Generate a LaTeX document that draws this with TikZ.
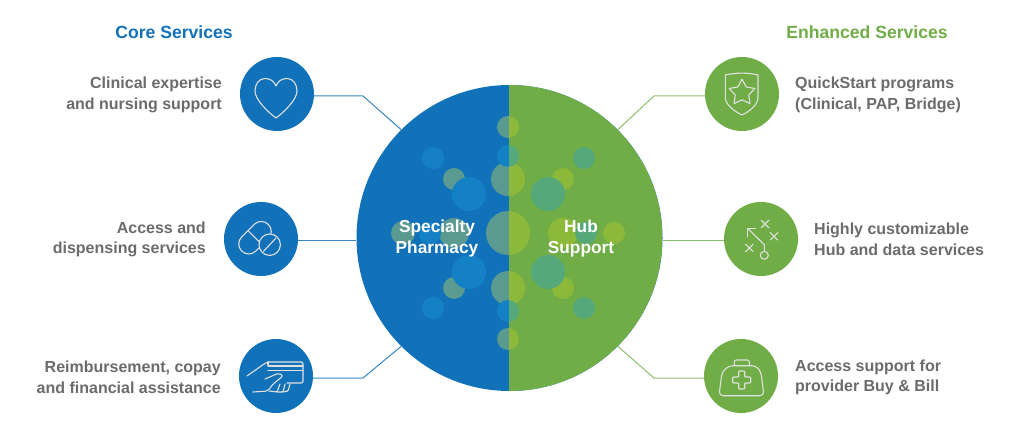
\documentclass[tikz,border=0pt]{standalone}
\usepackage{fontspec}
\setmainfont{Liberation Sans}
\usetikzlibrary{shapes.geometric}

\definecolor{coreblue}{HTML}{1272B9}
\definecolor{hubgreen}{HTML}{70AD47}
\definecolor{bluedot}{HTML}{1581C5}
\definecolor{greydot}{HTML}{5A9A90}
\definecolor{tealdot}{HTML}{55A87A}
\definecolor{limedot}{HTML}{8DB93B}
\definecolor{labelgrey}{HTML}{6B6B6D}

\newcommand{\bubbles}[2]{
	\foreach \bx/\by/\br in {508/127/11, 508/179/17, 508/233/22, 508/288/17, 508/339/11,
		454/179/11, 563/179/11, 454/233/15, 563/233/15, 403/233/12, 614/233/11, 454/288/11, 563/288/11}
		\fill[#2] (\bx,\by) circle (\br);
	\foreach \bx/\by/\br in {508/156/11, 508/311/11, 433/158/11, 584/158/11, 469/194/17, 548/194/17,
		430/233/11, 586/233/11, 469/272/17, 548/272/17, 433/308/11, 584/308/11}
		\fill[#1] (\bx,\by) circle (\br);
}

\begin{document}
\begin{tikzpicture}
[
x=1pt, y=-1pt,
every node/.style={inner sep=0pt},
title/.style={font=\bfseries\fontsize{17.6}{20}\selectfont},
label/.style={font=\bfseries\fontsize{16}{20.5}\selectfont, text=labelgrey},
leftlabel/.style={label, anchor=east, align=right},
rightlabel/.style={label, anchor=west, align=left},
hublabel/.style={font=\bfseries\fontsize{17.3}{21}\selectfont, text=white, align=center},
iconspot/.style={circle, minimum size=74pt},
coreline/.style={coreblue!85, line width=1pt},
hubline/.style={hubgreen!80, line width=1pt},
glyph/.style={white!88!black, line width=1.1pt, line join=round, line cap=round}
]
\useasboundingbox (0,0) rectangle (1024,438);

% centre disc
\node[circle, fill=coreblue, minimum size=306pt] (disc) at (509.5,238) {};
\begin{scope}
	\clip (0,0) rectangle (509,438);
	\clip (509.5,238) circle (153);
	\bubbles{bluedot}{greydot}
\end{scope}
\begin{scope}
	\clip (509,0) rectangle (1024,438);
	\clip (509.5,238) circle (153);
	\fill[hubgreen] (disc.center) circle (153);
	\bubbles{tealdot}{limedot}
\end{scope}
\node[hublabel] (specialty) at (437,239) {Specialty\\Pharmacy};
\node[hublabel] (hub) at (581,239) {Hub\\Support};

% icon spots
\node[iconspot, fill=coreblue] (heart) at (277,94) {};
\node[iconspot, fill=coreblue] (pills) at (261,239) {};
\node[iconspot, fill=coreblue] (card) at (276,376) {};
\node[iconspot, fill=hubgreen] (shield) at (742,94) {};
\node[iconspot, fill=hubgreen] (play) at (761,239) {};
\node[iconspot, fill=hubgreen] (bag) at (741,376) {};

% connectors
\coordinate (kneeA) at (363,96);
\coordinate (kneeC) at (363,378);
\coordinate (kneeD) at (654,96);
\coordinate (kneeF) at (654,378);
\draw[coreline] (heart.east |- kneeA) -- (kneeA) -- (disc.135);
\draw[coreline] (pills.east |- 0,240) -- (disc.west |- 0,240);
\draw[coreline] (card.east |- kneeC) -- (kneeC) -- (disc.225);
\draw[hubline] (shield.west |- kneeD) -- (kneeD) -- (disc.45);
\draw[hubline] (play.west |- 0,240) -- (disc.east |- 0,240);
\draw[hubline] (bag.west |- kneeF) -- (kneeF) -- (disc.315);

% headings and labels
\node[title, text=coreblue] (core) at (174,32) {Core Services};
\node[title, text=hubgreen] (enhanced) at (867,32) {Enhanced Services};
\node[leftlabel] (clinical) at (222,95) {Clinical expertise\\and nursing support};
\node[leftlabel] (access) at (206,239.5) {Access and\\dispensing services};
\node[leftlabel] (reimb) at (221,377.5) {Reimbursement, copay\\and financial assistance};
\node[rightlabel] (quick) at (795,95) {QuickStart programs\\(Clinical, PAP, Bridge)};
\node[rightlabel] (custom) at (814,239.5) {Highly customizable\\Hub and data services};
\node[rightlabel] (buy) at (795,377.5) {Access support for\\provider Buy \& Bill};

% heart
\begin{scope}[shift={(heart)}]
	\draw[glyph] (-1,-8) .. controls (-3,-13) and (-7,-15.5) .. (-12,-15.5)
		.. controls (-18,-15.5) and (-22,-10) .. (-22,-3)
		.. controls (-22,6) and (-8,19) .. (-1,24)
		.. controls (6,19) and (20,6) .. (20,-3)
		.. controls (20,-10) and (16,-15.5) .. (10,-15.5)
		.. controls (5,-15.5) and (1,-13) .. (-1,-8) -- cycle;
\end{scope}

% pills
\begin{scope}[shift={(pills)}]
	\begin{scope}[shift={(-6,-1.3)}, rotate=45]
		\draw[glyph, rounded corners=9.9pt] (-18.8,-10) rectangle (18.8,10);
		\draw[glyph] (0,-10) -- (0,10);
	\end{scope}
	\draw[glyph, fill=coreblue] (8.7,5.7) circle (10.7);
	\draw[glyph] (2.5,12.3) -- (15,-1);
\end{scope}

% card and hand
\begin{scope}[shift={(card)}]
	\draw[glyph, rounded corners=1.5pt] (-8,-14) -- (27,-14) -- (27,7) -- (11,7);
	\draw[glyph] (-8,-14) -- (-8,-11);
	\draw[glyph] (-8,-10) -- (27,-10);
	\draw[glyph] (-8,-5.5) -- (27,-5.5);
	\draw[glyph, rounded corners=1.5pt] (-29,0) -- (-12,-12) -- (-8,-14);
	\draw[glyph, rounded corners=2pt] (-11,3) -- (3,-3) -- (7,0) -- (-4,9) -- (-8,15) -- (-23,16);
	\draw[glyph, rounded corners=1pt] (-7,15) -- (1,16) -- (4,8);
	\draw[glyph, rounded corners=1pt] (1,16) -- (7,16) -- (9,8);
	\draw[glyph, rounded corners=1pt] (7,16) -- (12,15) -- (14,8);
\end{scope}

% shield
\begin{scope}[shift={(shield)}]
	\draw[glyph] (-16.7,-19) .. controls (-6,-21.5) and (6,-21.5) .. (16,-19) -- (16,3)
		.. controls (16,11) and (8,17) .. (0,21)
		.. controls (-8,17) and (-16.7,11) .. (-16.7,3) -- cycle;
	\node[star, star points=5, star point ratio=1.9, draw=white!88!black, line width=1.1pt,
		line join=round, minimum size=27pt] (badge) at (0,-1.3) {};
\end{scope}

% play chart
\begin{scope}[shift={(play)}]
	\draw[glyph] (3.3,16.3) circle (4);
	\draw[glyph] (3.3,12.3) -- (3.3,5.7) -- (-12.7,-10);
	\draw[glyph] (-5.3,-10.3) -- (-13.3,-10.3) -- (-13.3,-2);
	\foreach \mx/\my in {4/-15, 13/-2.7, -11.7/9}
		\draw[glyph] (\mx-3.7,\my-3.7) -- (\mx+3.7,\my+3.7) (\mx-3.7,\my+3.7) -- (\mx+3.7,\my-3.7);
\end{scope}

% medical bag
\begin{scope}[shift={(bag)}]
	\draw[glyph, rounded corners=2pt] (-6.7,-10.3) -- (-6.7,-16) -- (8.3,-16) -- (8.3,-10.3);
	\draw[glyph, rounded corners=4pt] (-12,-10.3) -- (15,-10.3) -- (20,-4) -- (23,19.7) -- (-22,19.7) -- (-19,-4) -- cycle;
	\draw[glyph, rounded corners=0.8pt] (-2.3,-5) -- (3.7,-5) -- (3.7,1) -- (9.7,1) -- (9.7,7) -- (3.7,7)
		-- (3.7,13) -- (-2.3,13) -- (-2.3,7) -- (-8.3,7) -- (-8.3,1) -- (-2.3,1) -- cycle;
\end{scope}
\end{tikzpicture}
\end{document}
